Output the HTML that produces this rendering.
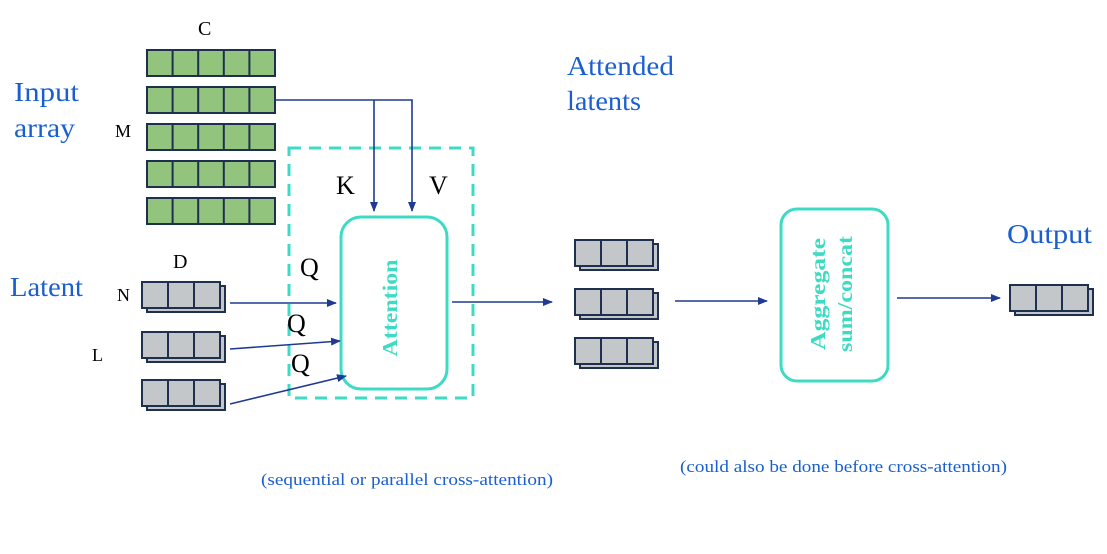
<!DOCTYPE html>
<html><head><style>body{margin:0;background:#fff}svg{display:block}</style></head><body>
<svg width="1107" height="554" viewBox="0 0 1107 554" xmlns="http://www.w3.org/2000/svg" font-family="Liberation Serif, serif">
<defs>
<marker id="a" markerWidth="10" markerHeight="8" refX="9" refY="4" orient="auto" markerUnits="userSpaceOnUse"><path d="M0,0 L10,4 L0,8 z" fill="#1f3a93"/></marker>
<g id="g"><rect x="0" y="0" width="128" height="26" fill="#93c47d" stroke="#1e2f4f" stroke-width="2"/><path d="M25.6,0v26M51.2,0v26M76.8,0v26M102.4,0v26" stroke="#1e2f4f" stroke-width="2"/></g>
<g id="s"><rect x="5" y="4" width="78" height="26" fill="#c4c7c9" stroke="#1e2f4f" stroke-width="2"/><rect x="0" y="0" width="78" height="26" fill="#c4c7c9" stroke="#1e2f4f" stroke-width="2"/><path d="M26,0v26M52,0v26" stroke="#1e2f4f" stroke-width="2"/></g>
</defs>
<use href="#g" x="147" y="50"/><use href="#g" x="147" y="87"/><use href="#g" x="147" y="124"/><use href="#g" x="147" y="161"/><use href="#g" x="147" y="198"/>
<use href="#s" x="142" y="282"/><use href="#s" x="142" y="332"/><use href="#s" x="142" y="380"/>
<use href="#s" x="575" y="240"/><use href="#s" x="575" y="289"/><use href="#s" x="575" y="338"/>
<use href="#s" x="1010" y="285"/>
<rect x="289" y="148" width="184" height="250" fill="none" stroke="#3ddbc4" stroke-width="3" stroke-dasharray="12,8"/>
<rect x="341" y="217" width="106" height="172" rx="20" fill="none" stroke="#3ddbc4" stroke-width="3"/>
<rect x="781" y="209" width="107" height="172" rx="16" fill="none" stroke="#3ddbc4" stroke-width="3"/>
<g stroke="#1f3a93" stroke-width="1.6" fill="none">
<path d="M275,100H412V211" marker-end="url(#a)"/>
<path d="M374,100V211" marker-end="url(#a)"/>
<path d="M230,303H336" marker-end="url(#a)"/>
<path d="M230,349L340,341" marker-end="url(#a)"/>
<path d="M230,404L346,376" marker-end="url(#a)"/>
<path d="M452,302H552" marker-end="url(#a)"/>
<path d="M675,301H767" marker-end="url(#a)"/>
<path d="M897,298H1000" marker-end="url(#a)"/>
</g>
<g fill="#000" font-size="20">
<text x="198" y="35">C</text><text x="115" y="137" font-size="18">M</text><text x="173" y="268">D</text>
<text x="117" y="301" font-size="18">N</text><text x="92" y="361" font-size="18">L</text>
<text x="336" y="194" font-size="26">K</text><text x="429" y="194" font-size="26">V</text>
<text x="300" y="276" font-size="26">Q</text><text x="287" y="332" font-size="26">Q</text><text x="291" y="372" font-size="26">Q</text>
</g>
<g fill="#1a5fcf" font-size="27">
<text x="14" y="101" textLength="65" lengthAdjust="spacingAndGlyphs">Input</text><text x="14" y="137" textLength="61" lengthAdjust="spacingAndGlyphs">array</text>
<text x="10" y="296" textLength="73" lengthAdjust="spacingAndGlyphs">Latent</text>
<text x="567" y="75" textLength="107" lengthAdjust="spacingAndGlyphs">Attended</text><text x="567" y="110" textLength="74" lengthAdjust="spacingAndGlyphs">latents</text>
<text x="1007" y="243" textLength="85" lengthAdjust="spacingAndGlyphs">Output</text>
<text x="261" y="485" font-size="17" textLength="292" lengthAdjust="spacingAndGlyphs">(sequential or parallel cross-attention)</text>
<text x="680" y="472" font-size="17" textLength="327" lengthAdjust="spacingAndGlyphs">(could also be done before cross-attention)</text>
</g>
<g fill="#3ddbc4" font-weight="bold" font-size="21">
<text transform="translate(397,308) rotate(-90)" text-anchor="middle" textLength="97" lengthAdjust="spacingAndGlyphs">Attention</text>
<text transform="translate(825,294) rotate(-90)" text-anchor="middle" textLength="112" lengthAdjust="spacingAndGlyphs">Aggregate</text>
<text transform="translate(852,294) rotate(-90)" text-anchor="middle" textLength="116" lengthAdjust="spacingAndGlyphs">sum/concat</text>
</g>
</svg>
</body></html>
